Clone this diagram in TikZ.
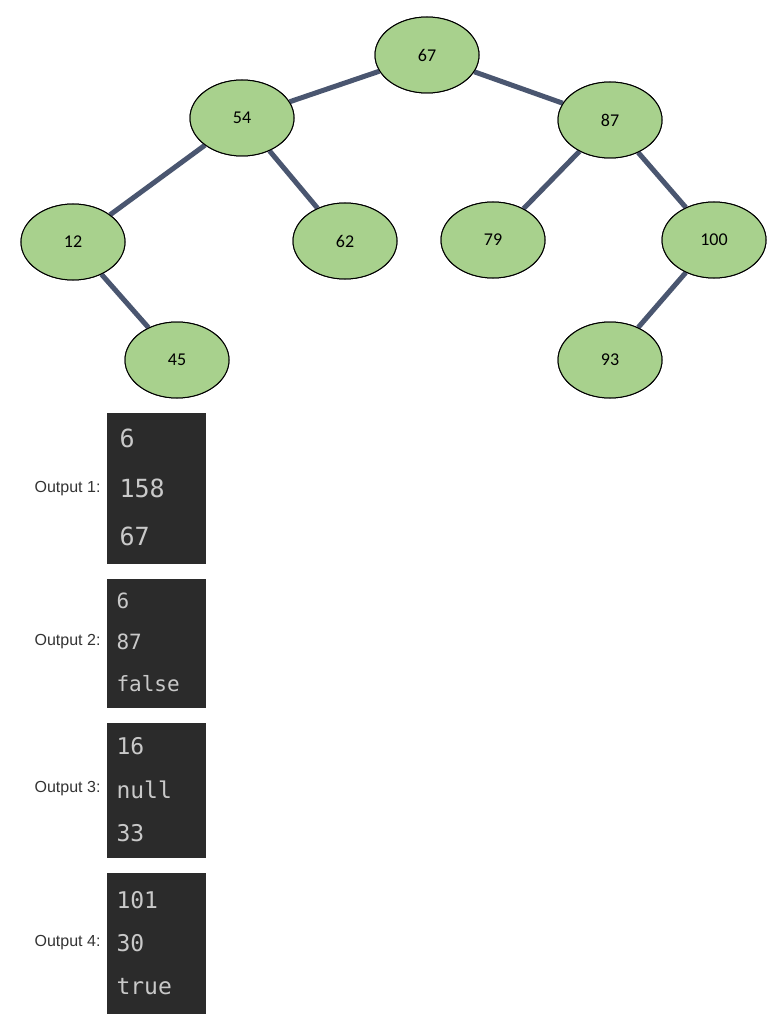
\documentclass[tikz,border=0pt]{standalone}
\usepackage{fontspec}
\setmainfont{Carlito}
\newfontfamily\lblfont{Liberation Sans}
\newfontfamily\codefont{DejaVu Sans Mono}
\usetikzlibrary{shapes.geometric}
\definecolor{leaf}{HTML}{A8D18D}
\definecolor{edge}{HTML}{4A5670}
\definecolor{term}{HTML}{2B2B2B}
\definecolor{termtxt}{HTML}{C9C9C9}
\begin{document}
\begin{tikzpicture}[x=1pt,y=-1pt,
  tn/.style={ellipse,draw=black,line width=1pt,fill=leaf,minimum width=104pt,minimum height=76pt,inner sep=0pt,font=\fontsize{18}{20}\selectfont},
  ed/.style={draw=edge,line width=5pt},
  box/.style={fill=term,draw=none},
  lbl/.style={anchor=east,font=\lblfont\fontsize{16}{18}\selectfont,text=black!80},
  cd/.style={anchor=west,text=termtxt,font=\codefont\fontsize{#1}{#1}\selectfont}]
\useasboundingbox (0,0) rectangle (775,1024);
\node[tn] (n67) at (427,55) {67};
\node[tn] (n54) at (242,118) {54};
\node[tn] (n87) at (610,120) {87};
\node[tn] (n12) at (73,242) {12};
\node[tn] (n62) at (345,241) {62};
\node[tn] (n79) at (493,240) {79};
\node[tn] (n100) at (714,240) {100};
\node[tn] (n45) at (177,360) {45};
\node[tn] (n93) at (610,360) {93};
\begin{scope}[on background layer/.style={}]
\end{scope}
\foreach \a/\b in {n67/n54,n67/n87,n54/n12,n54/n62,n87/n79,n87/n100,n12/n45,n100/n93}
  \draw[ed] (\a) -- (\b);
\foreach \n in {n67,n54,n87,n12,n62,n79,n100,n45,n93}
  \draw[line width=1pt] (\n.north) ellipse [x radius=0,y radius=0];
% redraw nodes on top of edges
\node[tn] at (427,55) {67};
\node[tn] at (242,118) {54};
\node[tn] at (610,120) {87};
\node[tn] at (73,242) {12};
\node[tn] at (345,241) {62};
\node[tn] at (493,240) {79};
\node[tn] at (714,240) {100};
\node[tn] at (177,360) {45};
\node[tn] at (610,360) {93};
% outputs
\fill[box] (107,413) rectangle (206,564);
\node[lbl] (o1) at (104,489) {Output 1:};
\node[cd=25] at (116,438) {6};
\node[cd=25] at (116,488) {158};
\node[cd=25] at (116,536) {67};
\fill[box] (107,579) rectangle (206,708);
\node[lbl] (o2) at (104,642) {Output 2:};
\node[cd=21] at (113,601) {6};
\node[cd=21] at (113,642) {87};
\node[cd=21] at (113,684) {false};
\fill[box] (107,723) rectangle (206,858);
\node[lbl] (o3) at (104,789) {Output 3:};
\node[cd=23] at (113,746) {16};
\node[cd=23] at (113,790) {null};
\node[cd=23] at (113,833) {33};
\fill[box] (107,873) rectangle (206,1014);
\node[lbl] (o4) at (104,943) {Output 4:};
\node[cd=23] at (113,900) {101};
\node[cd=23] at (113,943) {30};
\node[cd=23] at (113,987) {true};
\end{tikzpicture}
\end{document}
